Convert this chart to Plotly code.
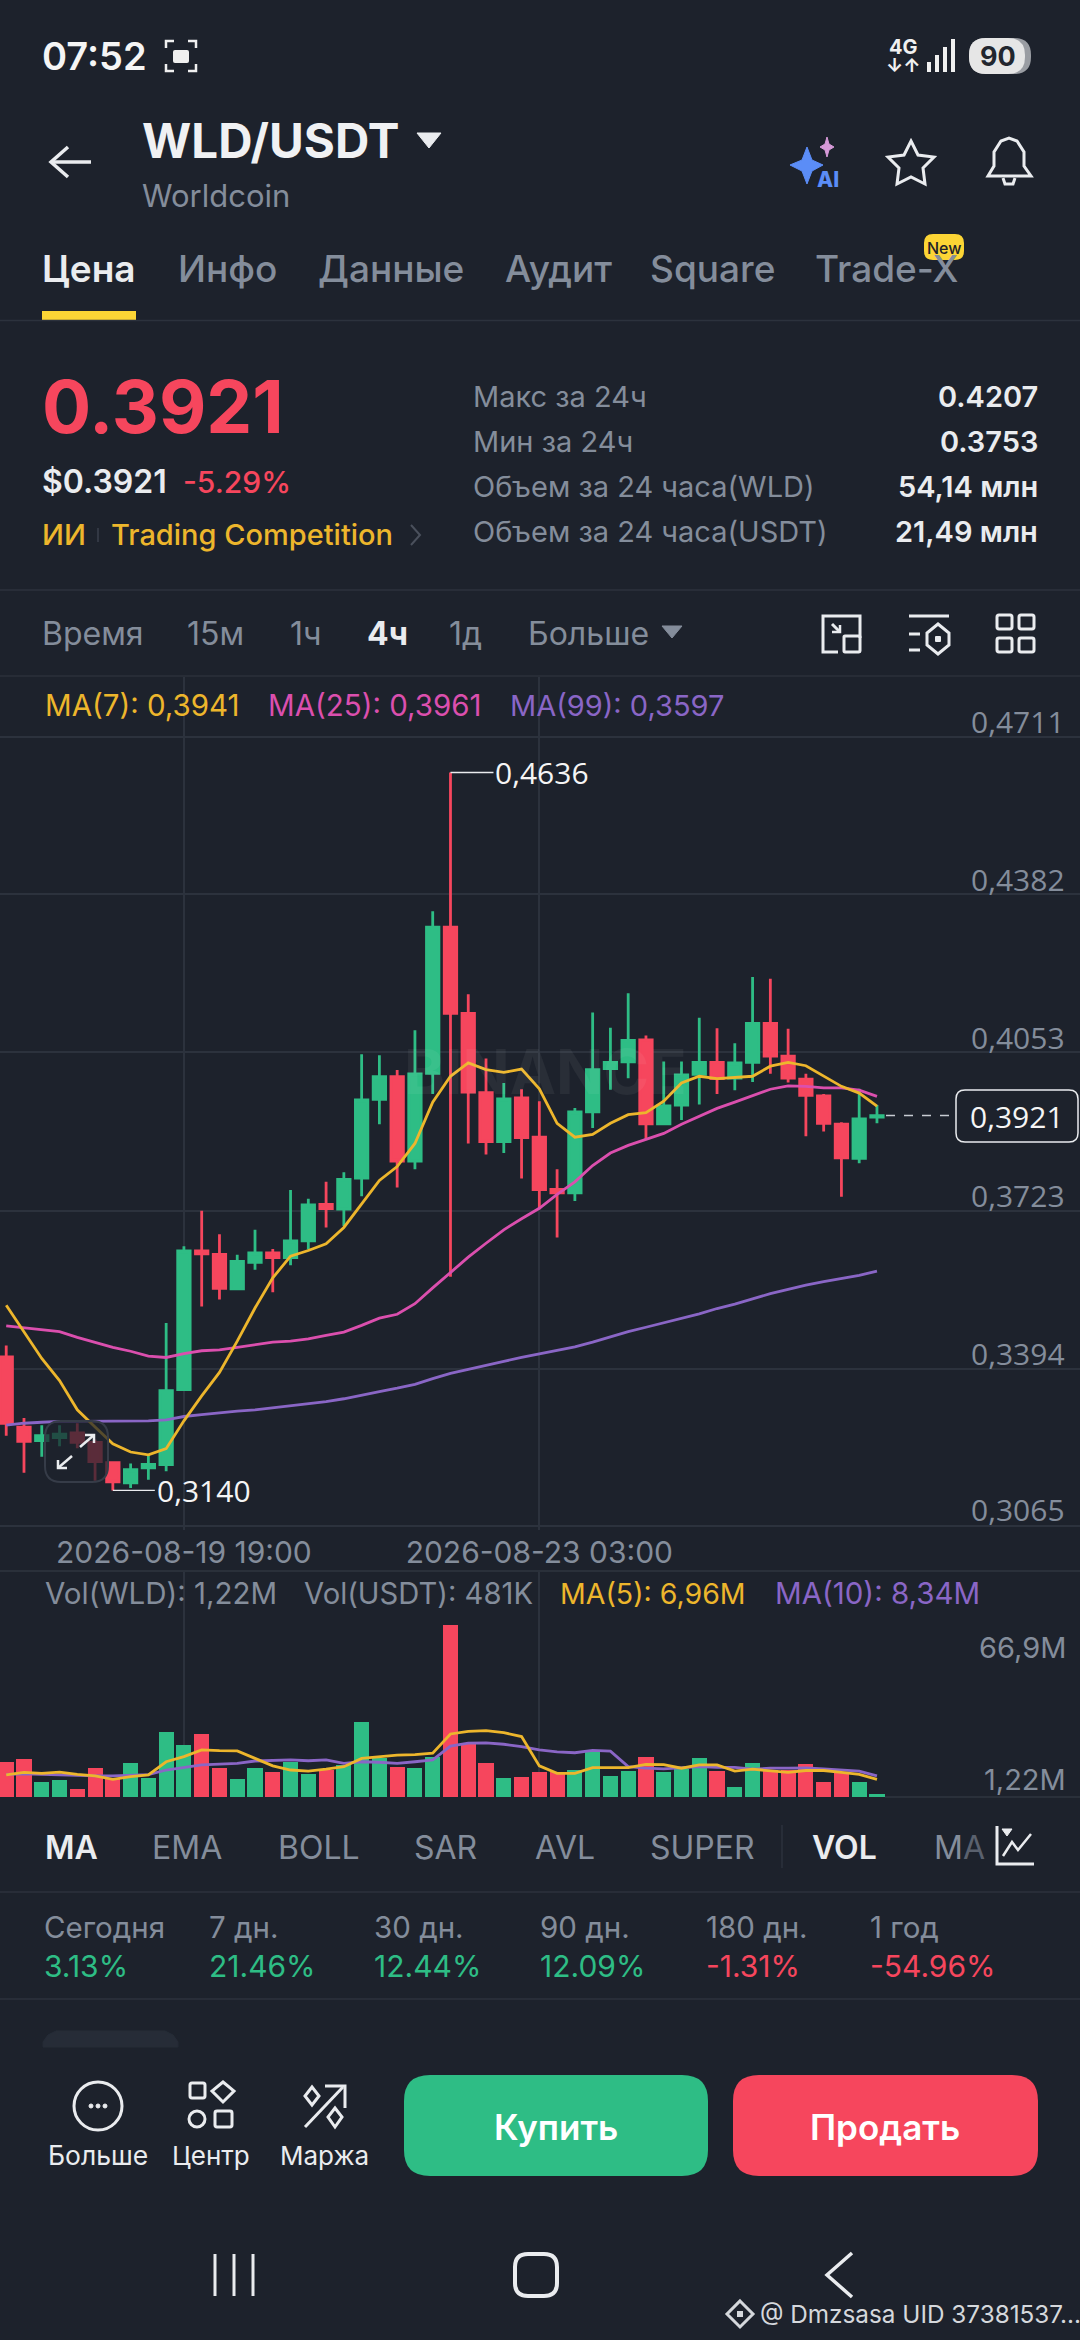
import pandas as pd
import plotly.graph_objects as go

W = 1080
H = 2340
BG = "#1D222C"
RED = "#F6465D"
GREEN = "#2EBD85"
YELLOW = "#EDB62C"
PINK = "#DB4FAE"
PURPLE = "#8A66C6"
GREY = "#848D9B"
LINE = "#2C323D"
WHITE = "#EAECEF"
FONT = "Inter"
NUM_FONT = "Open Sans"

# 4h candles
dates = pd.date_range("2026-08-18 03:00", periods=50, freq="4h")
opens = [0.3418, 0.3272, 0.3244, 0.3250, 0.3260, 0.3240, 0.3198, 0.3156, 0.3187, 0.3194,
         0.3350, 0.3639, 0.3632, 0.3560, 0.3615, 0.3635, 0.3625, 0.3660, 0.3736, 0.3726,
         0.3791, 0.3955, 0.4002, 0.3826, 0.4009, 0.4314, 0.4134, 0.3969, 0.3867, 0.3958,
         0.3876, 0.3767, 0.3760, 0.3929, 0.4019, 0.4033, 0.4079, 0.3904, 0.3943, 0.4007,
         0.4032, 0.3999, 0.4032, 0.4113, 0.4045, 0.3997, 0.3962, 0.3903, 0.3832, 0.3918]
highs = [0.3442, 0.3291, 0.3276, 0.3276, 0.3280, 0.3246, 0.3200, 0.3196, 0.3214, 0.3489,
         0.3649, 0.3723, 0.3674, 0.3631, 0.3683, 0.3643, 0.3766, 0.3748, 0.3783, 0.3803,
         0.4049, 0.4047, 0.4016, 0.4099, 0.4347, 0.4636, 0.4174, 0.4040, 0.3989, 0.3976,
         0.3951, 0.3809, 0.3937, 0.4136, 0.4104, 0.4176, 0.4088, 0.4034, 0.4034, 0.4125,
         0.4103, 0.4072, 0.4210, 0.4206, 0.4102, 0.4008, 0.3966, 0.3907, 0.3977, 0.3943]
lows = [0.3254, 0.3177, 0.3210, 0.3232, 0.3228, 0.3160, 0.3140, 0.3145, 0.3162, 0.3180,
        0.3350, 0.3523, 0.3538, 0.3560, 0.3600, 0.3553, 0.3609, 0.3642, 0.3688, 0.3691,
        0.3753, 0.3903, 0.3771, 0.3809, 0.3966, 0.3585, 0.3863, 0.3840, 0.3843, 0.3790,
        0.3726, 0.3667, 0.3743, 0.3895, 0.3975, 0.3999, 0.3872, 0.3904, 0.3912, 0.3944,
        0.3966, 0.3974, 0.3991, 0.4008, 0.3990, 0.3878, 0.3888, 0.3752, 0.3822, 0.3905]
closes = [0.3280, 0.3242, 0.3254, 0.3257, 0.3240, 0.3200, 0.3158, 0.3183, 0.3194, 0.3348,
          0.3639, 0.3633, 0.3561, 0.3617, 0.3635, 0.3625, 0.3660, 0.3735, 0.3727, 0.3788,
          0.3954, 0.4002, 0.3826, 0.4008, 0.4314, 0.4134, 0.3970, 0.3867, 0.3956, 0.3875,
          0.3767, 0.3760, 0.3929, 0.4017, 0.4032, 0.4078, 0.3904, 0.3941, 0.4006, 0.4032,
          0.3998, 0.4031, 0.4113, 0.4045, 0.3999, 0.3963, 0.3905, 0.3833, 0.3914, 0.3921]

ma7 = [0.3526, 0.3471, 0.3415, 0.3369, 0.3308, 0.3272, 0.3237, 0.3220, 0.3214, 0.3227,
       0.3285, 0.3337, 0.3386, 0.3451, 0.3520, 0.3583, 0.3628, 0.3640, 0.3654, 0.3688,
       0.3737, 0.3786, 0.3815, 0.3863, 0.3949, 0.4003, 0.4031, 0.4017, 0.4011, 0.4018,
       0.3977, 0.3905, 0.3876, 0.3882, 0.3905, 0.3923, 0.3927, 0.3951, 0.3989, 0.4003,
       0.3998, 0.4000, 0.4003, 0.4024, 0.4032, 0.4025, 0.4003, 0.3982, 0.3968, 0.3941]
ma25 = [0.3483, 0.3479, 0.3474, 0.3471, 0.3459, 0.3448, 0.3438, 0.3430, 0.3420, 0.3417,
        0.3425, 0.3431, 0.3433, 0.3438, 0.3444, 0.3449, 0.3451, 0.3456, 0.3463, 0.3470,
        0.3484, 0.3499, 0.3507, 0.3529, 0.3562, 0.3595, 0.3626, 0.3655, 0.3683, 0.3706,
        0.3728, 0.3757, 0.3783, 0.3817, 0.3843, 0.3859, 0.3871, 0.3884, 0.3903, 0.3920,
        0.3936, 0.3949, 0.3963, 0.3976, 0.3983, 0.3982, 0.3979, 0.3979, 0.3974, 0.3961]
ma99 = [0.3276, 0.3280, 0.3282, 0.3284, 0.3284, 0.3284, 0.3284, 0.3284, 0.3285, 0.3287,
        0.3294, 0.3298, 0.3302, 0.3305, 0.3308, 0.3312, 0.3316, 0.3321, 0.3325, 0.3331,
        0.3339, 0.3346, 0.3353, 0.3361, 0.3373, 0.3384, 0.3392, 0.3401, 0.3409, 0.3417,
        0.3424, 0.3432, 0.3439, 0.3449, 0.3460, 0.3471, 0.3480, 0.3489, 0.3499, 0.3508,
        0.3519, 0.3528, 0.3539, 0.3550, 0.3559, 0.3568, 0.3575, 0.3582, 0.3588, 0.3597]

# volume in millions
volumes = [13.6, 14.8, 6.0, 6.7, 3.1, 11.3, 7.2, 13.3, 7.4, 25.4,
           20.3, 24.5, 11.5, 7.0, 11.3, 10.0, 13.8, 8.9, 10.6, 12.6,
           29.4, 15.1, 11.8, 11.4, 15.5, 66.9, 21.2, 13.2, 7.6, 8.0,
           9.8, 9.7, 10.6, 17.7, 8.4, 10.1, 15.8, 9.8, 11.0, 15.4,
           10.2, 4.0, 13.2, 10.6, 10.6, 12.8, 6.1, 9.3, 6.1, 1.22]
vol_ma5 = [8.7, 9.7, 9.3, 9.8, 8.9, 8.3, 7.0, 8.0, 8.7, 13.8,
           15.8, 18.4, 18.1, 18.0, 15.1, 12.2, 10.6, 10.2, 10.9, 11.9,
           15.1, 15.8, 16.4, 16.6, 17.1, 24.6, 25.6, 25.9, 25.1, 23.6,
           12.2, 9.3, 9.3, 11.5, 11.5, 11.5, 12.8, 12.7, 11.3, 12.6,
           12.6, 10.2, 10.9, 10.4, 9.7, 10.4, 10.4, 9.7, 8.9, 6.96]
vol_ma10 = [8.9, 9.1, 8.9, 8.7, 8.3, 8.3, 8.3, 8.5, 8.8, 10.6,
            11.6, 12.6, 12.9, 13.2, 14.1, 14.2, 14.5, 14.2, 14.5, 13.2,
            13.8, 13.6, 13.2, 13.8, 14.5, 19.9, 21.0, 21.1, 20.6, 19.7,
            18.4, 17.6, 17.3, 18.2, 17.9, 11.9, 11.3, 11.0, 11.5, 11.9,
            11.6, 11.6, 10.9, 11.3, 11.3, 11.4, 11.0, 10.6, 10.2, 8.34]

price_ticks = [0.4711, 0.4382, 0.4053, 0.3723, 0.3394, 0.3065]
price_labels = ["0,4711", "0,4382", "0,4053", "0,3723", "0,3394", "0,3065"]
date_ticks = [dates[10], dates[30]]
date_labels = ["2026-08-19 19:00", "2026-08-23 03:00"]

tabs = [("Цена", 43), ("Инфо", 179), ("Данные", 319), ("Аудит", 506), ("Square", 651), ("Trade-X", 816)]
stats = [("Макс за 24ч", "0.4207", 396), ("Мин за 24ч", "0.3753", 441),
         ("Объем за 24 часа(WLD)", "54,14 млн", 486), ("Объем за 24 часа(USDT)", "21,49 млн", 532)]
intervals = [("Время", 43), ("15м", 188), ("1ч", 291), ("4ч", 368), ("1д", 450), ("Больше", 529)]
indicators = [("MA", 46), ("EMA", 153), ("BOLL", 279), ("SAR", 415), ("AVL", 536), ("SUPER", 651), ("VOL", 813)]
periods = [("Сегодня", "3.13%", 45), ("7 дн.", "21.46%", 210), ("30 дн.", "12.44%", 375),
           ("90 дн.", "12.09%", 541), ("180 дн.", "-1.31%", 707), ("1 год", "-54.96%", 871)]

fig = go.Figure()
fig.add_trace(go.Candlestick(
    x=dates, open=opens, high=highs, low=lows, close=closes,
    increasing=dict(line=dict(color=GREEN, width=2.8), fillcolor=GREEN),
    decreasing=dict(line=dict(color=RED, width=2.8), fillcolor=RED),
    whiskerwidth=0, showlegend=False))
for vals, col in [(ma99, PURPLE), (ma25, PINK), (ma7, YELLOW)]:
    fig.add_trace(go.Scatter(x=dates, y=vals, mode="lines", line=dict(color=col, width=2.8), showlegend=False))

bar_cols = [GREEN if c >= o else RED for o, c in zip(opens, closes)]
fig.add_trace(go.Bar(x=dates, y=volumes, marker=dict(color=bar_cols, line_width=0), width=0.85 * 4 * 3600 * 1000,
                     xaxis="x2", yaxis="y2", showlegend=False))
for vals, col in [(vol_ma10, PURPLE), (vol_ma5, YELLOW)]:
    fig.add_trace(go.Scatter(x=dates, y=vals, mode="lines", line=dict(color=col, width=2.8),
                             xaxis="x2", yaxis="y2", showlegend=False))

x_range = [dates[0] - pd.Timedelta(hours=1.4), dates[0] + pd.Timedelta(hours=241.7)]


def fy(y):
    return 1 - y / H


def fx(x):
    return x / W


annots = []
shapes = []


def txt(x, y, s, size=28, color=GREY, anchor="left", weight=400, family=FONT):
    if anchor == "left":
        x -= 2
    annots.append(dict(x=fx(x), y=fy(y), xref="paper", yref="paper", text=s, showarrow=False,
                       xanchor=anchor, yanchor="middle", borderpad=0,
                       font=dict(family=family, size=size, color=color, weight=weight)))


def hline(y, x0=0, x1=W, color=LINE, width=1.5):
    shapes.append(dict(type="line", xref="paper", yref="paper", x0=fx(x0), x1=fx(x1), y0=fy(y), y1=fy(y),
                       line=dict(color=color, width=width)))


def path(points, color=WHITE, width=3, close=False, fill=None):
    d = "M " + " L ".join(f"{fx(a):.5f},{fy(b):.5f}" for a, b in points)
    if close:
        d += " Z"
    shapes.append(dict(type="path", xref="paper", yref="paper", path=d,
                       line=dict(color=color, width=width), fillcolor=fill))


def rrect(x0, y0, x1, y1, r, fill=None, color=None, width=0):
    d = (f"M {fx(x0 + r):.5f},{fy(y0):.5f} L {fx(x1 - r):.5f},{fy(y0):.5f} "
         f"Q {fx(x1):.5f},{fy(y0):.5f} {fx(x1):.5f},{fy(y0 + r):.5f} L {fx(x1):.5f},{fy(y1 - r):.5f} "
         f"Q {fx(x1):.5f},{fy(y1):.5f} {fx(x1 - r):.5f},{fy(y1):.5f} L {fx(x0 + r):.5f},{fy(y1):.5f} "
         f"Q {fx(x0):.5f},{fy(y1):.5f} {fx(x0):.5f},{fy(y1 - r):.5f} L {fx(x0):.5f},{fy(y0 + r):.5f} "
         f"Q {fx(x0):.5f},{fy(y0):.5f} {fx(x0 + r):.5f},{fy(y0):.5f} Z")
    shapes.append(dict(type="path", xref="paper", yref="paper", path=d, fillcolor=fill,
                       line=dict(color=color if color else "rgba(0,0,0,0)", width=width)))


def circle(cx, cy, r, color=WHITE, width=3, fill=None):
    shapes.append(dict(type="circle", xref="paper", yref="paper", x0=fx(cx - r), x1=fx(cx + r),
                       y0=fy(cy - r), y1=fy(cy + r), line=dict(color=color, width=width), fillcolor=fill))


# status bar
txt(43, 56, "07:52", 38, "#F5F5F5", weight=600)
for pts in [[(166, 48), (166, 41), (174, 41)], [(188, 41), (196, 41), (196, 48)],
            [(196, 64), (196, 71), (188, 71)], [(174, 71), (166, 71), (166, 64)]]:
    path(pts, "#F0F0F0", 2.5)
rrect(173, 50, 189, 63, 2, fill="#F0F0F0")
txt(903, 47, "4G", 20, "#F0F0F0", "center", 700)
txt(903, 65, "↓↑", 19, "#F0F0F0", "center", 700)
for bx, by in [(929, 62), (937, 55), (945, 47), (953, 39)]:
    path([(bx, by), (bx, 72)], "#F0F0F0", 4)
rrect(969, 38, 1031, 74, 17, fill="#9A9DA3")
rrect(969, 38, 1025, 74, 17, fill="#E6E6E6")
txt(998, 56, "90", 27, "#22262E", "center", 700)

# header
path([(91, 162), (52, 162)], WHITE, 3.5)
path([(68, 147), (51, 162), (68, 177)], WHITE, 3.5)
txt(143, 140, "WLD/USDT", 47.5, "#F0F1F3", weight=700)
path([(417, 133), (441, 133), (429, 148)], WHITE, 1, True, WHITE)
txt(143, 195, "Worldcoin", 31, GREY)
path([(807, 147), (812, 160), (823, 165), (812, 171), (807, 184), (802, 171), (790, 165), (802, 160)],
     "#5B8DF7", 1, True, "#5B8DF7")
path([(827, 137), (829, 144), (834, 147), (829, 150), (827, 157), (825, 150), (820, 147), (825, 144)],
     "#D69AD8", 1, True, "#D69AD8")
txt(828, 180, "AI", 21, "#5B8DF7", "center", 800)
path([(911, 141), (918, 155), (934, 157), (923, 168), (925, 184), (911, 177), (897, 184), (899, 168), (888, 157), (904, 155)],
     WHITE, 3, True)
path([(988, 176), (994, 166), (994, 152), (1001, 141), (1009, 138), (1017, 141), (1024, 152), (1024, 166), (1031, 176)], WHITE, 3, True)
path([(1003, 178), (1005, 184), (1013, 184), (1015, 178)], WHITE, 3)

# tabs
for i, (name, x) in enumerate(tabs):
    txt(x, 268, name, 37, WHITE if i == 0 else GREY, weight=600 if i == 0 else 500)
rrect(924, 234, 964, 260, 9, fill="#FCD535")
txt(944, 248, "New", 16, "#1E2329", "center", 500)
rrect(42, 311, 136, 320, 0, fill="#FCD535")
hline(320.5)

# price block
txt(43, 406, "0.3921", 73, RED, weight=700)
txt(43, 482, "$0.3921", 32, WHITE, weight=600)
txt(184, 482, "-5.29%", 30, RED, weight=500)
txt(43, 535, "ИИ", 29, YELLOW, weight=500)
path([(98, 528), (98, 542)], "#3A404C", 1.5)
txt(112, 535, "Trading Competition", 29, YELLOW, weight=500)
path([(411, 525), (420, 535), (411, 545)], "#4A505C", 2)
for name, val, y in stats:
    txt(474, y, name, 29, GREY)
    txt(1039, y, val, 29, WHITE, "right", 600)
hline(590)

# intervals
for name, x in intervals:
    active = name == "4ч"
    txt(x, 634, name, 32, WHITE if active else GREY, weight=700 if active else 400)
path([(662, 626), (682, 626), (672, 638)], GREY, 1, True, GREY)
path([(823, 640), (823, 616), (860, 616), (860, 638)], WHITE, 3)
path([(823, 640), (823, 652), (838, 652)], WHITE, 3)
rrect(844, 636, 860, 652, 1, color=WHITE, width=3)
path([(832, 624), (840, 632)], WHITE, 3)
path([(832, 632), (840, 632), (840, 625)], WHITE, 2.5)
hline(616, 909, 949, WHITE, 3)
hline(634, 909, 920, WHITE, 3)
hline(650, 909, 920, WHITE, 3)
path([(938, 624), (949, 633), (949, 645), (938, 654), (927, 645), (927, 633)], WHITE, 3, True)
rrect(935, 636, 941, 642, 1, fill=WHITE)
for bx, by in [(997, 615), (1019, 615), (997, 638), (1019, 638)]:
    rrect(bx, by, bx + 15, by + 14, 2, color=WHITE, width=3)
hline(676, color="#272C36", width=2)

# chart legends
txt(46, 705, "MA(7): 0,3941", 29.5, YELLOW)
txt(269, 705, "MA(25): 0,3961", 29.5, PINK)
txt(511, 705, "MA(99): 0,3597", 29, PURPLE)
txt(1067, 1647, "66,9M", 29, GREY, "right")
txt(1067, 1779, "1,22M", 29, GREY, "right")
txt(46, 1593, "Vol(WLD): 1,22M", 29.5, GREY)
txt(305, 1593, "Vol(USDT): 481K", 29.2, GREY)
txt(561, 1593, "MA(5): 6,96M", 28.5, YELLOW)
txt(776, 1593, "MA(10): 8,34M", 29.5, PURPLE)
annots.append(dict(x=fx(545), y=fy(1072), xref="paper", yref="paper", text="BINANCE", showarrow=False,
                   font=dict(family=FONT, size=62, color="rgba(255,255,255,0.055)", weight=700)))

# price scale labels sit above their grid lines
for val, lab in zip(price_ticks, price_labels):
    annots.append(dict(x=fx(1066), y=val, xref="paper", yref="y", text=lab, showarrow=False, xanchor="right",
                       yanchor="middle", yshift=17 if val == price_ticks[-1] else 15, borderpad=0,
                       font=dict(family=NUM_FONT, size=30, color=GREY)))

# high / low callouts on the candles
annots.append(dict(x=dates[25], y=max(highs), xref="x", yref="y", text="0,4636", showarrow=True, arrowhead=0,
                   arrowwidth=1.3, arrowcolor=WHITE, ax=43, ay=0, xanchor="left", standoff=0,
                   font=dict(family=NUM_FONT, size=30, color="#F5F5F5")))
annots.append(dict(x=dates[6], y=min(lows), xref="x", yref="y", text="0,3140", showarrow=True, arrowhead=0,
                   arrowwidth=1.3, arrowcolor=WHITE, ax=42, ay=0, xanchor="left", standoff=0,
                   font=dict(family=NUM_FONT, size=30, color="#F5F5F5")))

# last price tag
shapes.append(dict(type="line", xref="paper", yref="y", x0=fx(886), x1=fx(956), y0=closes[-1], y1=closes[-1],
                   line=dict(color="#C8CCD2", width=1.5, dash="dash")))
rrect(956, 1090, 1078, 1142, 9, fill=BG, color=WHITE, width=1.5)
txt(1017, 1116, "0,3921", 30, "#F5F5F5", "center", family=NUM_FONT)

# expand button over the candles
rrect(45, 1421, 108, 1482, 16, fill="rgba(29,34,44,0.72)", color="#363C48", width=2)
path([(58, 1468), (72, 1456)], WHITE, 2.5)
path([(58, 1460), (58, 1468), (67, 1468)], WHITE, 2.5)
path([(80, 1447), (94, 1435)], WHITE, 2.5)
path([(85, 1435), (94, 1435), (94, 1443)], WHITE, 2.5)

hline(1571, color="#2A303A", width=2)
hline(1797, 885, W, "#2A303A", 2)

# indicator row
for name, x in indicators:
    active = name == "VOL" or name == "MA"
    txt(x, 1847, name, 32, WHITE if active else GREY, weight=600 if active else 400)
txt(935, 1847, "M<span style='color:#5A616E'>A</span>", 32, GREY)
path([(782, 1825), (782, 1868)], "#2C323D", 1.5)
path([(997, 1826), (997, 1864), (1034, 1864)], WHITE, 3)
path([(1003, 1856), (1012, 1842), (1018, 1850), (1031, 1834)], WHITE, 2.5)
path([(1002, 1829), (1012, 1829), (1007, 1836)], WHITE, 1, True, WHITE)
hline(1892)
for name, val, x in periods:
    txt(x, 1927, name, 29.5, GREY)
    txt(x, 1966, val, 30, RED if val.startswith("-") else GREEN)
hline(1999)

# bottom bar
path([(43, 2047), (43, 2042), (48, 2035), (56, 2031), (165, 2031), (173, 2035), (178, 2042), (178, 2047)],
     "#262C37", 1, True, "#262C37")
circle(98, 2106, 24, WHITE, 3)
for dx in (-7, 0, 7):
    circle(98 + dx, 2106, 2, WHITE, 1, WHITE)
rrect(190, 2083, 205, 2098, 2, color=WHITE, width=3)
path([(223, 2082), (234, 2091), (223, 2102), (212, 2091)], WHITE, 3, True)
circle(197, 2119, 8, WHITE, 3)
rrect(215, 2111, 232, 2127, 2, color=WHITE, width=3)
path([(305, 2127), (343, 2087)], WHITE, 3)
path([(325, 2086), (345, 2086), (345, 2108)], WHITE, 3)
path([(312, 2087), (319, 2096), (312, 2105), (305, 2096)], WHITE, 3, True)
path([(335, 2108), (342, 2117), (335, 2127), (328, 2117)], WHITE, 3, True)
txt(98, 2155, "Больше", 26.5, WHITE, "center")
txt(211, 2155, "Центр", 26, WHITE, "center")
txt(324, 2155, "Маржа", 26, WHITE, "center")
rrect(404, 2075, 708, 2176, 26, fill=GREEN)
rrect(733, 2075, 1038, 2176, 26, fill=RED)
txt(556, 2127, "Купить", 35, "#FFFFFF", "center", 600)
txt(885, 2127, "Продать", 35, "#FFFFFF", "center", 600)

# nav bar
for bx in (215, 234, 253):
    path([(bx, 2254), (bx, 2296)], WHITE, 3)
rrect(515, 2254, 557, 2296, 13, color=WHITE, width=4)
path([(852, 2253), (827, 2275), (852, 2297)], WHITE, 3.5)
path([(740, 2301), (753, 2314), (740, 2327), (727, 2314)], "#D5D8DC", 3, True)
rrect(737, 2311, 743, 2317, 0, fill="#D5D8DC")
txt(761, 2314, "@ Dmzsasa UID 37381537...", 24.3, "#D5D8DC")

fig.update_layout(
    width=W, height=H, margin=dict(l=0, r=0, t=0, b=0), autosize=False,
    paper_bgcolor=BG, plot_bgcolor=BG, showlegend=False, boxgap=0.3, boxgroupgap=0, bargap=0,
    font=dict(family=FONT, color=GREY),
    annotations=annots, shapes=shapes,
    xaxis=dict(domain=[0, 1], type="date", range=x_range, tickmode="array", tickvals=date_ticks, ticktext=date_labels,
               showgrid=True, gridcolor=LINE, gridwidth=1.5, zeroline=False, showline=False, ticks="",
               ticklabelstandoff=2, tickfont=dict(size=30, color=GREY), rangeslider=dict(visible=False), anchor="y"),
    yaxis=dict(domain=[fy(1530), fy(676)], range=[0.30575, 0.48371], side="right", tickmode="array",
               tickvals=price_ticks, showticklabels=False,
               showgrid=True, gridcolor=LINE, gridwidth=1.5, zeroline=False, showline=False, ticks="", anchor="x"),
    xaxis2=dict(domain=[0, 1], type="date", matches="x", tickmode="array", tickvals=date_ticks, showticklabels=False,
                showgrid=True, gridcolor=LINE, gridwidth=1.5, zeroline=False, showline=False, ticks="", anchor="y2"),
    yaxis2=dict(domain=[fy(1797.3), fy(1571)], range=[0, 87.87], showticklabels=False, showgrid=False,
                zeroline=False, showline=False, ticks="", anchor="x2"),
)

fig.write_html("out.html", config={"displayModeBar": False},
               post_script="document.body.style.margin='0';document.body.style.background='" + BG + "';")
